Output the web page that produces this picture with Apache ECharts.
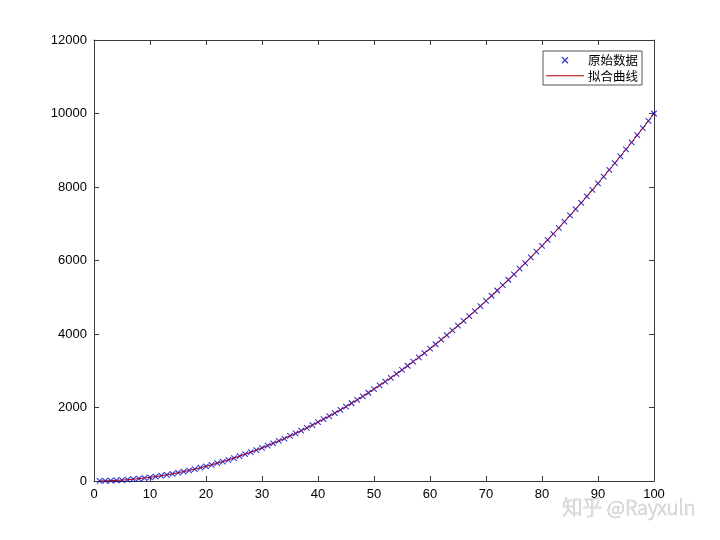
<!DOCTYPE html>
<html>
<head>
<meta charset="utf-8">
<script src="https://cdn.jsdelivr.net/npm/echarts@6/dist/echarts.min.js"></script>
<style>html,body{margin:0;padding:0;background:#fff;}#c{width:720px;height:540px;}</style>
</head>
<body>
<div id="c"></div>
<script>
var xValues = [1,2,3,4,5,6,7,8,9,10,11,12,13,14,15,16,17,18,19,20,21,22,23,24,25,26,27,28,29,30,31,32,33,34,35,36,37,38,39,40,41,42,43,44,45,46,47,48,49,50,51,52,53,54,55,56,57,58,59,60,61,62,63,64,65,66,67,68,69,70,71,72,73,74,75,76,77,78,79,80,81,82,83,84,85,86,87,88,89,90,91,92,93,94,95,96,97,98,99,100];
var rawValues = [1,4,9,16,25,36,49,64,81,100,
121,144,169,196,225,256,289,324,361,400,
441,484,529,576,625,676,729,784,841,900,
961,1024,1089,1156,1225,1296,1369,1444,1521,1600,
1681,1764,1849,1936,2025,2116,2209,2304,2401,2500,
2601,2704,2809,2916,3025,3136,3249,3364,3481,3600,
3721,3844,3969,4096,4225,4356,4489,4624,4761,4900,
5041,5184,5329,5476,5625,5776,5929,6084,6241,6400,
6561,6724,6889,7056,7225,7396,7569,7744,7921,8100,
8281,8464,8649,8836,9025,9216,9409,9604,9801,10000];
var fitValues = [1,4,9,16,25,36,49,64,81,100,
121,144,169,196,225,256,289,324,361,400,
441,484,529,576,625,676,729,784,841,900,
961,1024,1089,1156,1225,1296,1369,1444,1521,1600,
1681,1764,1849,1936,2025,2116,2209,2304,2401,2500,
2601,2704,2809,2916,3025,3136,3249,3364,3481,3600,
3721,3844,3969,4096,4225,4356,4489,4624,4761,4900,
5041,5184,5329,5476,5625,5776,5929,6084,6241,6400,
6561,6724,6889,7056,7225,7396,7569,7744,7921,8100,
8281,8464,8649,8836,9025,9216,9409,9604,9801,10000];
var seriesNames = ['原始数据', '拟合曲线'];
var watermark = '知乎 @Rayxuln';

var font = '"Liberation Sans", Arial, sans-serif';
var axisColor = '#3a3a3a';
var xMark = 'path://M0,0 L10,10 M10,0 L0,10';
var lineIcon = 'path://M0,0 H40 V1 H0 Z';

function pairs(xs, ys) { return xs.map(function (x, i) { return [x, ys[i]]; }); }

var chart = echarts.init(document.getElementById('c'), null, { renderer: 'canvas' });
var baseX = {
  type: 'value', min: 0, max: 100, interval: 10,
  axisLine: { show: true, onZero: false, lineStyle: { color: axisColor, width: 1 } },
  axisTick: { show: true, inside: true, length: 5, lineStyle: { color: axisColor } },
  splitLine: { show: false }
};
var baseY = {
  type: 'value', min: 0, max: 12000, interval: 2000,
  axisLine: { show: true, onZero: false, lineStyle: { color: axisColor, width: 1 } },
  axisTick: { show: true, inside: true, length: 5, lineStyle: { color: axisColor } },
  splitLine: { show: false }
};
chart.setOption({
  animation: false,
  backgroundColor: '#fff',
  grid: { left: 94, right: 66, top: 40, bottom: 59, containLabel: false },
  xAxis: [
    Object.assign({}, baseX, { position: 'bottom', axisLabel: { show: true, color: '#000', fontSize: 13, fontFamily: font, margin: 7 } }),
    Object.assign({}, baseX, { position: 'top', axisLabel: { show: false } })
  ],
  yAxis: [
    Object.assign({}, baseY, { position: 'left', axisLabel: { show: true, color: '#000', fontSize: 13, fontFamily: font, margin: 7, formatter: function (v) { return String(v); } } }),
    Object.assign({}, baseY, { position: 'right', axisLabel: { show: false } })
  ],
  legend: {
    orient: 'vertical', left: 543, top: 51,
    backgroundColor: '#fff', borderColor: '#555', borderWidth: 1, borderRadius: 0,
    padding: [3, 4, 3, 3], itemGap: 3, itemWidth: 38, itemHeight: 6,
    symbolKeepAspect: true,
    textStyle: { fontSize: 12.5, color: '#000', fontFamily: '"Noto Sans CJK SC", sans-serif', padding: [0, 0, 0, -1] },
    data: [
      { name: seriesNames[0], icon: xMark, itemStyle: { color: 'none', borderColor: '#0000cc', borderWidth: 1.2 } },
      { name: seriesNames[1], icon: lineIcon, itemStyle: { color: '#b00000', borderWidth: 0 } }
    ]
  },
  series: [
    {
      name: seriesNames[0], type: 'scatter', xAxisIndex: 0, yAxisIndex: 0,
      symbol: xMark, symbolSize: 5.5,
      itemStyle: { color: 'none', borderColor: '#0000cc', borderWidth: 1.1 },
      data: pairs(xValues, rawValues), z: 3
    },
    {
      name: seriesNames[1], type: 'line', xAxisIndex: 0, yAxisIndex: 0,
      symbol: 'none', showSymbol: false,
      lineStyle: { color: '#a00020', width: 1 }, itemStyle: { color: '#a00020' },
      data: pairs(xValues, fitValues), z: 4
    }
  ],
  graphic: [
    { type: 'text', left: 562, top: 497, z: 10,
      style: { text: watermark, fontSize: 20, fontFamily: '"Noto Sans CJK SC", sans-serif', fontWeight: 300, fill: '#e2e2e2', stroke: '#b0b0b0', lineWidth: 0.6 } }
  ]
});
</script>
</body>
</html>
